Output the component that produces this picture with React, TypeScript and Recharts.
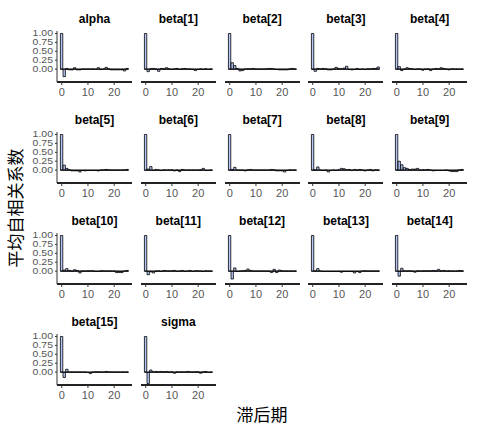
import React from "react";
import { BarChart, Bar, XAxis, YAxis, ReferenceLine } from "recharts";

// lags 0..25
const lags = Array.from({ length: 26 }, (_, i) => i);

const panelNames = [
  "alpha", "beta[1]", "beta[2]", "beta[3]", "beta[4]",
  "beta[5]", "beta[6]", "beta[7]", "beta[8]", "beta[9]",
  "beta[10]", "beta[11]", "beta[12]", "beta[13]", "beta[14]",
  "beta[15]", "sigma",
];

const acfAlpha = [1, -0.21, 0.02, -0.02, -0.02, 0.04, -0.02, -0.02, 0.005, 0.005, 0.005, 0.005, 0.005, -0.005, 0.04, -0.01, 0.005, 0.05, 0.01, -0.02, -0.02, -0.02, -0.02, -0.02, -0.05, 0.02];
const acfBeta1 = [1, -0.07, 0.01, 0.02, 0.005, -0.06, 0.02, 0.01, 0.04, 0.01, -0.01, 0.01, 0.02, -0.01, 0.01, 0.02, 0.005, 0.005, -0.005, -0.04, -0.01, 0.01, -0.01, 0.01, -0.01, 0.005];
const acfBeta2 = [1, 0.18, 0.1, 0.02, -0.05, -0.04, 0.005, 0.01, 0.01, 0.02, 0.005, 0.005, 0.005, 0.005, 0.01, 0.02, 0.02, 0.005, -0.01, -0.02, -0.02, -0.02, -0.02, 0.01, 0.02, 0.005];
const acfBeta3 = [1, -0.06, 0.02, 0.01, 0.02, 0.01, -0.02, -0.02, 0.005, 0.05, 0.02, 0.01, 0.03, 0.08, -0.01, -0.02, -0.01, 0.02, -0.01, 0.005, -0.01, 0.01, 0.005, 0.02, 0.02, 0.06];
const acfBeta4 = [1, 0.07, -0.04, 0.005, 0.04, 0.02, 0.01, -0.01, 0.01, 0.005, -0.03, 0.005, 0.01, -0.04, 0.005, 0.02, 0.01, 0.04, 0.02, 0.005, -0.02, 0.01, 0.005, 0.005, 0.005, 0.005];
const acfBeta5 = [1, 0.14, 0.05, 0.01, -0.02, -0.02, -0.02, -0.05, -0.01, -0.02, -0.01, -0.01, -0.01, -0.01, -0.02, 0.005, 0.01, 0.02, 0.01, 0.005, 0.005, 0.005, 0.005, 0.005, 0.01, 0.02];
const acfBeta6 = [1, 0.03, 0.1, -0.01, 0.02, 0.005, -0.01, 0.01, 0.005, 0.005, 0.01, -0.02, 0.005, -0.04, 0.02, 0.005, 0.005, 0.005, 0.005, 0.005, 0.005, 0.01, 0.05, -0.01, -0.01, 0.005];
const acfBeta7 = [1, 0.02, 0.08, 0.005, 0.005, 0.005, -0.02, 0.01, 0.02, 0.005, 0.005, 0.005, 0.005, 0.005, 0.005, 0.005, 0.02, 0.01, -0.02, -0.02, -0.02, -0.05, -0.01, 0.01, 0.005, 0.005];
const acfBeta8 = [1, 0.01, 0.09, 0.005, -0.01, 0.005, -0.05, -0.01, 0.005, -0.01, 0.01, 0.05, 0.04, 0.01, 0.02, -0.01, 0.02, 0.005, 0.02, 0.005, -0.02, 0.005, 0.02, -0.02, 0.01, 0.005];
const acfBeta9 = [1, 0.25, 0.15, 0.07, 0.05, 0.02, 0.03, 0.03, 0.05, 0.005, 0.01, 0.01, 0.02, 0.005, -0.02, -0.01, -0.01, -0.01, -0.01, 0.005, -0.02, -0.04, -0.04, -0.04, 0.01, 0.02];
const acfBeta10 = [1, 0.03, 0.07, 0.02, 0.005, 0.04, 0.02, -0.05, 0.01, 0.005, 0.01, 0.01, 0.01, -0.01, -0.01, 0.01, 0.01, 0.005, 0.005, 0.005, 0.005, -0.04, -0.04, -0.04, 0.005, 0.02];
const acfBeta11 = [1, -0.1, -0.02, -0.05, 0.005, 0.01, -0.01, 0.02, 0.01, 0.005, 0.01, 0.02, -0.01, 0.005, 0.02, -0.01, 0.005, 0.02, -0.01, 0.01, 0.01, 0.005, -0.01, 0.01, 0.005, 0.005];
const acfBeta12 = [1, -0.22, 0.09, -0.01, 0.005, 0.01, 0.02, 0.06, 0.02, 0.005, 0.005, 0.005, 0.005, 0.005, 0.005, 0.005, -0.04, 0.05, -0.04, 0.03, 0.01, 0.005, 0.005, 0.005, 0.005, 0.005];
const acfBeta13 = [1, 0.005, 0.07, 0.005, -0.01, -0.01, -0.01, -0.01, -0.01, -0.01, -0.01, -0.03, -0.01, -0.01, -0.01, -0.01, -0.05, -0.01, -0.04, 0.005, 0.01, 0.005, 0.005, 0.005, 0.005, 0.005];
const acfBeta14 = [1, -0.14, 0.08, 0.01, 0.005, 0.01, 0.005, -0.03, 0.01, 0.005, 0.01, 0.01, 0.01, 0.01, 0.02, 0.01, 0.05, 0.01, 0.02, 0.005, 0.01, 0.005, 0.005, 0.005, 0.02, 0.01];
const acfBeta15 = [1, -0.15, 0.08, 0.005, 0.005, 0.005, 0.005, 0.005, 0.005, 0.005, -0.01, -0.04, 0.005, 0.01, 0.01, 0.005, 0.005, 0.02, 0.01, 0.005, 0.005, 0.005, 0.005, 0.005, 0.005, 0.005];
const acfSigma = [1, -0.32, 0.06, 0.01, 0.02, 0.01, 0.02, 0.01, 0.02, 0.005, 0.01, -0.03, 0.01, 0.005, 0.01, 0.005, 0.02, 0.01, 0.005, 0.01, 0.01, -0.03, 0.01, 0.02, -0.01, 0.005];

const panelValues = [
  acfAlpha, acfBeta1, acfBeta2, acfBeta3, acfBeta4,
  acfBeta5, acfBeta6, acfBeta7, acfBeta8, acfBeta9,
  acfBeta10, acfBeta11, acfBeta12, acfBeta13, acfBeta14,
  acfBeta15, acfSigma,
];

const xTicks = [0, 10, 20];
const yTicks = [0, 0.25, 0.5, 0.75, 1];

const FONT = "'Liberation Sans', Arial, sans-serif";
const CJK = "'Noto Sans CJK SC', sans-serif";

const PLOT_W = 75;
const PLOT_H = 51;
const Y_W = 40;
const X_H = 24;
const PAD_T = 8;
const COL_STEP = 83.8;
const ROW_STEP = 101;
const LEFT0 = 57;
const TOP0 = 31;

// squashed tick label, like the reference's narrow y labels
function YTick(props: any) {
  const { x, y, payload } = props;
  return (
    <g transform={`translate(${x},${y})`}>
      <text
        transform="scale(1,0.78)"
        textAnchor="end"
        dy="0.36em"
        fill="#555"
        fontSize={10.5}
      >
        {Number(payload.value).toFixed(2)}
      </text>
    </g>
  );
}

function Panel({ idx }: { idx: number }) {
  const col = idx % 5;
  const row = Math.floor(idx / 5);
  const left = LEFT0 + COL_STEP * col;
  const top = TOP0 + ROW_STEP * row;
  const data = lags.map((lag, i) => ({ lag, v: panelValues[idx][i] }));
  const first = col === 0;

  return (
    <>
      <div
        style={{
          position: "absolute",
          left: left,
          top: top - 19,
          width: PLOT_W,
          textAlign: "center",
          fontFamily: FONT,
          fontWeight: "bold",
          fontSize: 12,
          color: "#000",
          lineHeight: "14px",
        }}
      >
        {panelNames[idx]}
      </div>
      <div style={{ position: "absolute", left: left - Y_W, top: top - PAD_T }}>
        <BarChart
          width={Y_W + PLOT_W}
          height={PAD_T + PLOT_H + X_H}
          data={data}
          margin={{ top: PAD_T, right: 0, bottom: 0, left: 0 }}
          barCategoryGap={0}
          style={{ fontFamily: FONT }}
        >
          <XAxis
            dataKey="lag"
            type="number"
            domain={[-1.8, 26.8]}
            ticks={xTicks}
            interval={0}
            allowDataOverflow
            height={X_H}
            axisLine={{ stroke: "#222", strokeWidth: 2 }}
            tickLine={{ stroke: "#333" }}
            tickSize={3}
            tickMargin={3}
            tick={{ fill: "#555", fontSize: 11 }}
          />
          <YAxis
            type="number"
            domain={[-0.36, 1.07]}
            ticks={yTicks}
            interval={0}
            allowDataOverflow
            width={Y_W}
            axisLine={first ? { stroke: "#333", strokeWidth: 1 } : false}
            tickLine={first ? { stroke: "#333" } : false}
            tickSize={2}
            tickMargin={2}
            tick={first ? <YTick /> : false}
          />
          <ReferenceLine
            segment={[
              { x: -0.5, y: 0 },
              { x: 25.5, y: 0 },
            ]}
            stroke="#000"
            strokeWidth={1}
          />
          <Bar
            dataKey="v"
            fill="#b4c7f7"
            stroke="#000"
            strokeWidth={0.8}
            barSize={PLOT_W / 28.6}
            isAnimationActive={false}
          />
        </BarChart>
      </div>
    </>
  );
}

export default function App() {
  return (
    <div
      style={{
        position: "absolute",
        left: 0,
        top: 0,
        width: 477,
        height: 431,
        background: "#fff",
        overflow: "hidden",
      }}
    >
      {panelNames.map((_, i) => (
        <Panel key={i} idx={i} />
      ))}
      <div
        style={{
          position: "absolute",
          left: 15,
          top: 208,
          transform: "translate(-50%, -50%) rotate(-90deg)",
          whiteSpace: "nowrap",
          fontFamily: CJK,
          fontSize: 17,
          color: "#000",
          lineHeight: "20px",
        }}
      >
        平均自相关系数
      </div>
      <div
        style={{
          position: "absolute",
          left: 262,
          top: 414,
          transform: "translate(-50%, -50%)",
          whiteSpace: "nowrap",
          fontFamily: CJK,
          fontSize: 17,
          color: "#000",
          lineHeight: "20px",
        }}
      >
        滞后期
      </div>
    </div>
  );
}
